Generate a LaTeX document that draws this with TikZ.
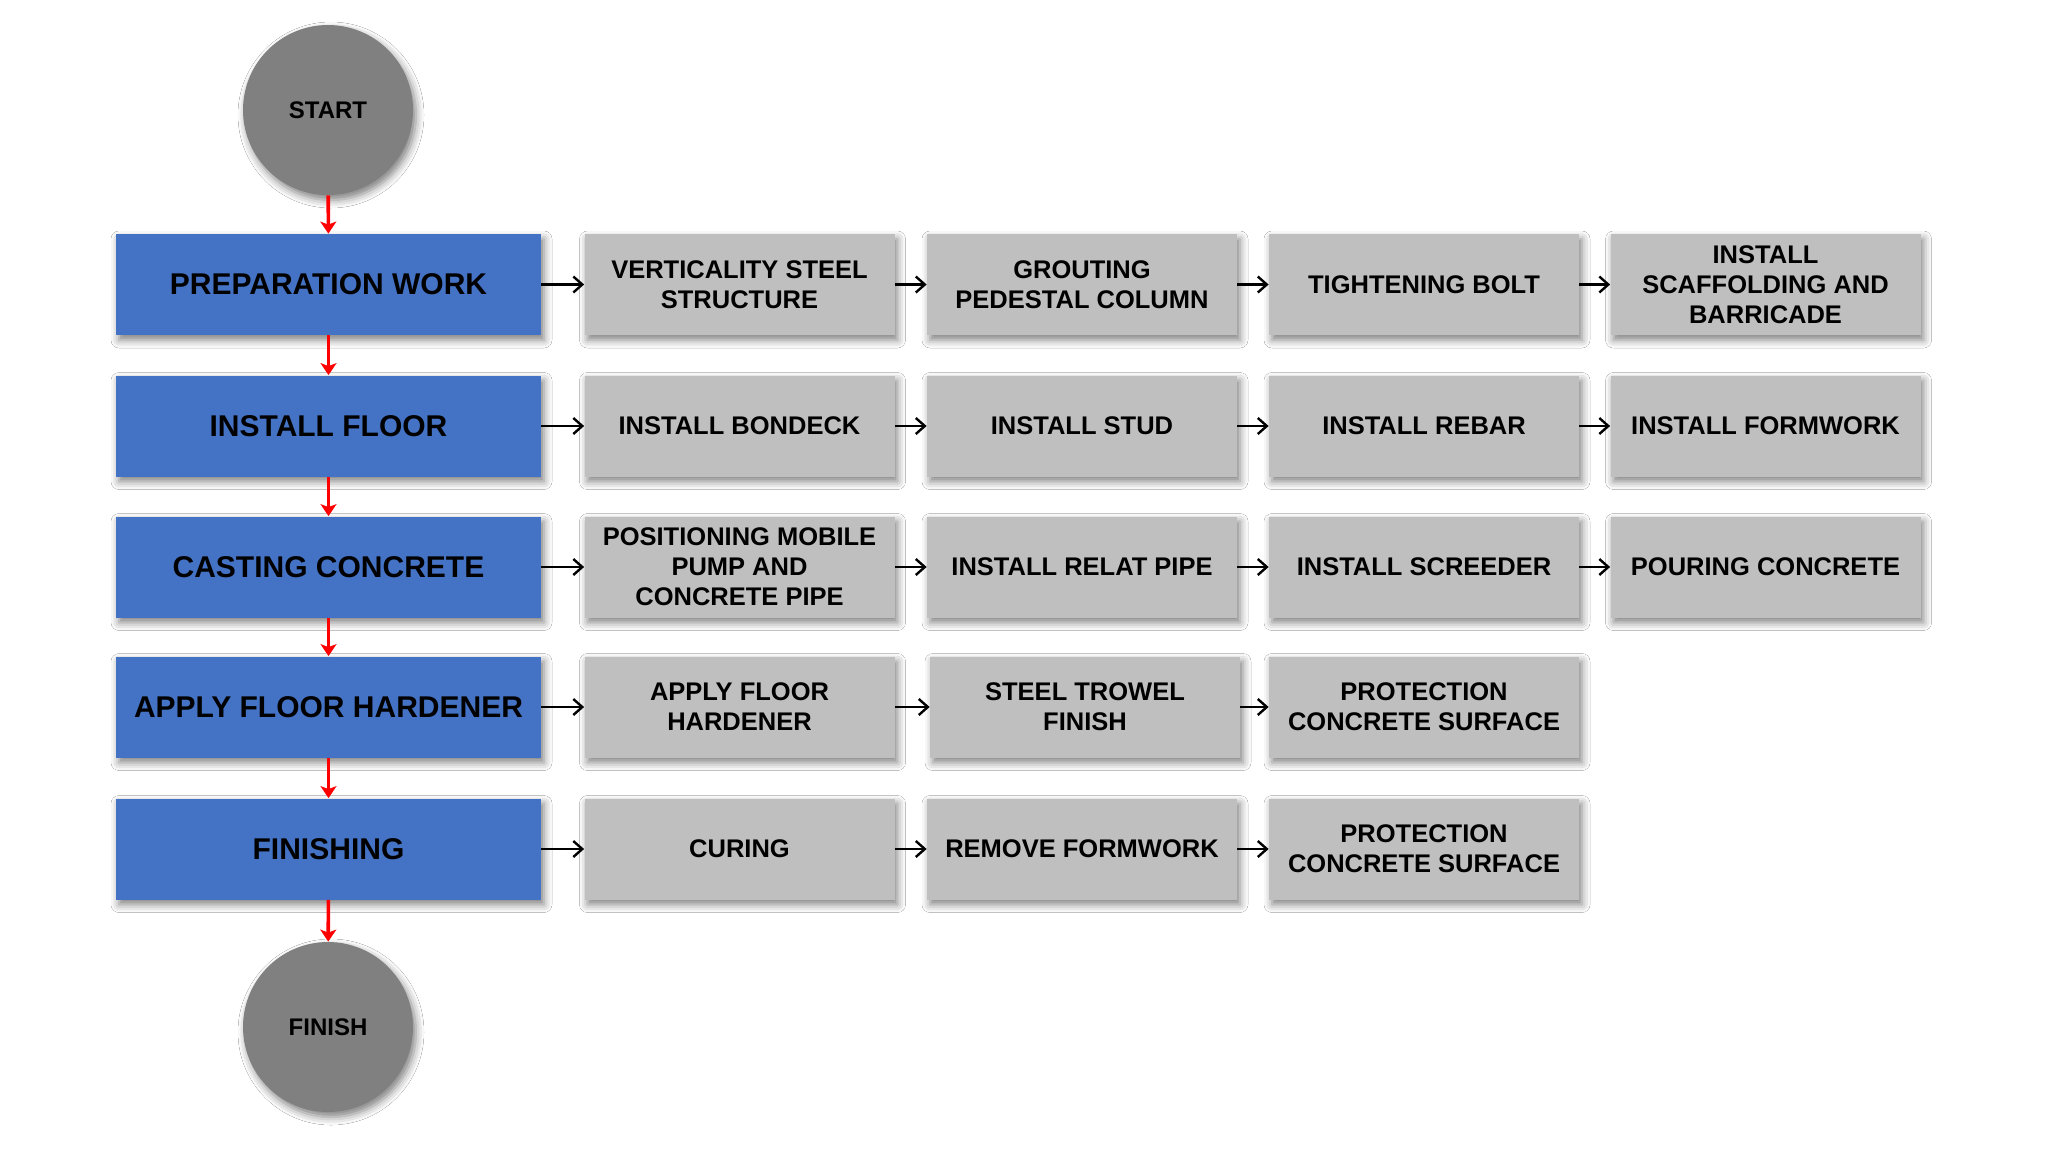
\documentclass[tikz,border=0pt]{standalone}
\usepackage{fontspec}
\setmainfont{Liberation Sans}
\usetikzlibrary{arrows.meta,shadows.blur}
\definecolor{mainblue}{HTML}{4472C4}
\definecolor{boxgray}{HTML}{BFBFBF}
\definecolor{circgray}{HTML}{808080}
\definecolor{arrowred}{HTML}{FF0000}
\begin{document}
\begin{tikzpicture}[x=0.5pt,y=-0.5pt,
  shadowed/.style={blur shadow={shadow xshift=1.5pt,shadow yshift=-2.5pt,shadow blur radius=4pt,shadow opacity=50}},
  mainbox/.style={rectangle, fill=mainblue, minimum width=212.5pt, minimum height=50.5pt, inner sep=0pt, font=\bfseries\fontsize{15}{17}\selectfont, shadowed},
  subbox/.style={rectangle, fill=boxgray, minimum width=155pt, minimum height=50.5pt, inner sep=0pt, align=center, font=\bfseries\fontsize{12.75}{15}\selectfont, shadowed},
  endpt/.style={circle, fill=circgray, minimum size=85pt, inner sep=0pt, font=\bfseries\fontsize{12}{14}\selectfont, shadowed},
  redarrow/.style={draw=arrowred, line width=1.8pt, -{Stealth[length=6pt,width=8pt,inset=1.5pt]}},
  blackarrow/.style={draw=black, line width=1.2pt, -{Straight Barb[length=4.5pt,width=8pt]}}]
\useasboundingbox (0,0) rectangle (2048,1152);
\fill[white] (0,0) rectangle (2048,1152);

% start / finish
\node[endpt] (start) at (328,110) {START};
\node[endpt] (finish) at (328,1027) {FINISH};

% main column
\node[mainbox] (m1) at (328.5,284.5) {PREPARATION WORK};
\node[mainbox] (m2) at (328.5,426) {INSTALL FLOOR};
\node[mainbox] (m3) at (328.5,567) {CASTING CONCRETE};
\node[mainbox] (m4) at (328.5,707) {APPLY FLOOR HARDENER};
\node[mainbox] (m5) at (328.5,849) {FINISHING};

% row 1
\node[subbox] (a1) at (739.5,284.5) {VERTICALITY STEEL\\STRUCTURE};
\node[subbox] (a2) at (1082,284.5) {GROUTING\\PEDESTAL COLUMN};
\node[subbox] (a3) at (1424,284.5) {TIGHTENING BOLT};
\node[subbox] (a4) at (1765.5,284.5) {INSTALL\\SCAFFOLDING AND\\BARRICADE};
% row 2
\node[subbox] (b1) at (739.5,426) {INSTALL BONDECK};
\node[subbox] (b2) at (1082,426) {INSTALL STUD};
\node[subbox] (b3) at (1424,426) {INSTALL REBAR};
\node[subbox] (b4) at (1765.5,426) {INSTALL FORMWORK};
% row 3
\node[subbox] (c1) at (739.5,567) {POSITIONING MOBILE\\PUMP AND\\CONCRETE PIPE};
\node[subbox] (c2) at (1082,567) {INSTALL RELAT PIPE};
\node[subbox] (c3) at (1424,567) {INSTALL SCREEDER};
\node[subbox] (c4) at (1765.5,567) {POURING CONCRETE};
% row 4
\node[subbox] (d1) at (739.5,707) {APPLY FLOOR\\HARDENER};
\node[subbox] (d2) at (1085,707) {STEEL TROWEL\\FINISH};
\node[subbox] (d3) at (1424,707) {PROTECTION\\CONCRETE SURFACE};
% row 5
\node[subbox] (e1) at (739.5,849) {CURING};
\node[subbox] (e2) at (1082,849) {REMOVE FORMWORK};
\node[subbox] (e3) at (1424,849) {PROTECTION\\CONCRETE SURFACE};

% red vertical arrows
\draw[redarrow] (start) -- (m1);
\draw[redarrow] (m1) -- (m2);
\draw[redarrow] (m2) -- (m3);
\draw[redarrow] (m3) -- (m4);
\draw[redarrow] (m4) -- (m5);
\draw[redarrow] (m5) -- (finish);

% black horizontal arrows
\draw[blackarrow] (m1) -- (a1);
\draw[blackarrow] (a1) -- (a2);
\draw[blackarrow] (a2) -- (a3);
\draw[blackarrow] (a3) -- (a4);
\draw[blackarrow] (m2) -- (b1);
\draw[blackarrow] (b1) -- (b2);
\draw[blackarrow] (b2) -- (b3);
\draw[blackarrow] (b3) -- (b4);
\draw[blackarrow] (m3) -- (c1);
\draw[blackarrow] (c1) -- (c2);
\draw[blackarrow] (c2) -- (c3);
\draw[blackarrow] (c3) -- (c4);
\draw[blackarrow] (m4) -- (d1);
\draw[blackarrow] (d1) -- (d2);
\draw[blackarrow] (d2) -- (d3);
\draw[blackarrow] (m5) -- (e1);
\draw[blackarrow] (e1) -- (e2);
\draw[blackarrow] (e2) -- (e3);
\end{tikzpicture}
\end{document}
